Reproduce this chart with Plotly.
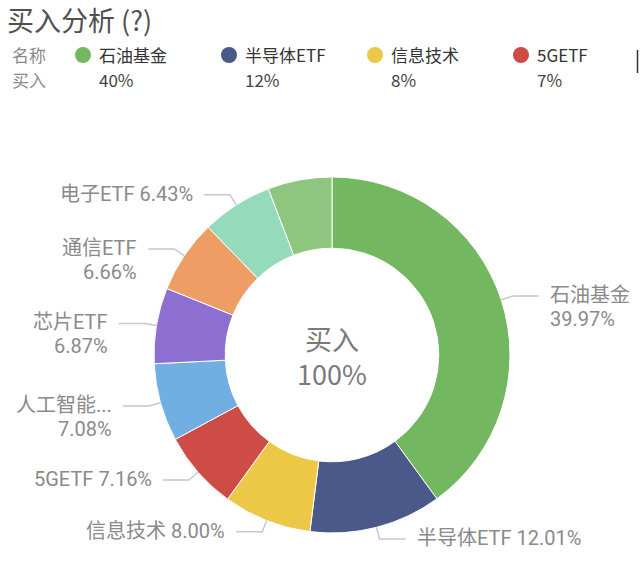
import numpy as np
import plotly.graph_objects as go

# ---- data ----
names = ["石油基金", "半导体ETF", "信息技术", "5GETF", "人工智能ETF",
         "芯片ETF", "通信ETF", "电子ETF", "其他"]
values = [39.97, 12.01, 8.00, 7.16, 7.08, 6.87, 6.66, 6.43, 5.82]
title_text = "买入分析 (?)"
legend_row_names = ["名称", "买入"]
center_title = "买入"
center_value = "100%"

# ---- style ----
colors = ["#73b761", "#4a588a", "#ecc846", "#cd4c46", "#71afe2",
          "#8d6fd1", "#ee9e64", "#95dabb", "#8fc67f"]
label_wrap = [True, False, False, False, True, True, True, False, False]
label_show = [True, True, True, True, True, True, True, True, False]
legend_count = 4
FONT = "Noto Sans CJK SC, Noto Sans, sans-serif"
LABEL_FONT = "Roboto, Noto Sans CJK SC, sans-serif"

W, H = 640, 582
CX, CY, R = 332, 355, 178
HOLE = 0.6


def px(x):
    return x / W


def py(y):
    return 1 - y / H


fig = go.Figure(go.Pie(
    labels=names, values=values, sort=False, direction="clockwise",
    rotation=0, hole=HOLE,
    marker=dict(colors=colors, line=dict(color="white", width=1)),
    textinfo="none", hoverinfo="skip", showlegend=False,
    domain=dict(x=[px(CX - R), px(CX + R)], y=[py(CY + R), py(CY - R)]),
))

annotations = []
shapes = []

# ---- slice labels with leader lines ----
vals = np.array(values, dtype=float)
frac = vals / vals.sum()
cum = np.cumsum(frac)
mid = (cum - frac / 2) * 2 * np.pi
LEN1, LEN2, GAP, LINE_H = 12, 26, 10, 24
LABEL_COLOR = "#8a8a8a"
for i, name in enumerate(names):
    if not label_show[i]:
        continue
    s, c = np.sin(mid[i]), np.cos(mid[i])
    x1, y1 = CX + R * s, CY - R * c
    x2, y2 = CX + (R + LEN1) * s, CY - (R + LEN1) * c
    right = s >= 0
    x3 = x2 + (LEN2 if right else -LEN2)
    shapes.append(dict(
        type="path", xref="paper", yref="paper",
        path=f"M {px(x1)},{py(y1)} L {px(x2)},{py(y2)} L {px(x3)},{py(y2)}",
        line=dict(color="#c8c8c8", width=1.5),
    ))
    tx = x3 + (GAP if right else -GAP)
    disp = name if len(name) <= 6 else name[:4] + "..."
    pct = f"{values[i]:.2f}%"
    lines = [disp, pct] if label_wrap[i] else [f"{disp} {pct}"]
    for k, t in enumerate(lines):
        annotations.append(dict(
            text=t, x=px(tx), y=py(y2 - 1 + k * LINE_H),
            xref="paper", yref="paper",
            xanchor="left" if right else "right", yanchor="middle",
            borderpad=0, showarrow=False,
            font=dict(size=20, color=LABEL_COLOR, family=LABEL_FONT),
        ))

# ---- center text ----
annotations.append(dict(text=f"{center_title}<br>{center_value}",
                        x=px(CX), y=py(356), xref="paper", yref="paper",
                        showarrow=False, xanchor="center", yanchor="middle",
                        align="center", borderpad=0,
                        font=dict(size=27, color="#7a7a7a", family=FONT)))

# ---- title ----
annotations.append(dict(text=title_text, x=px(6), y=py(20), xref="paper",
                        yref="paper", showarrow=False, xanchor="left",
                        yanchor="middle", borderpad=0,
                        font=dict(size=27, color="#505050", family=FONT)))

# ---- custom legend ----
ROW1, ROW2 = 54.5, 79.5
for j, t in enumerate(legend_row_names):
    annotations.append(dict(text=t, x=px(11), y=py(ROW1 if j == 0 else ROW2),
                            xref="paper", yref="paper", showarrow=False,
                            xanchor="left", yanchor="middle", borderpad=0,
                            font=dict(size=17, color="#8a8a8a", family=FONT)))
LEG_X0, LEG_DX = 83, 146
for i in range(legend_count):
    dx = LEG_X0 + i * LEG_DX
    shapes.append(dict(type="circle", xref="paper", yref="paper",
                       x0=px(dx - 8), x1=px(dx + 8),
                       y0=py(55 + 8), y1=py(55 - 8),
                       fillcolor=colors[i], line=dict(width=0)))
    annotations.append(dict(text=names[i], x=px(dx + 15), y=py(ROW1),
                            xref="paper", yref="paper", showarrow=False,
                            xanchor="left", yanchor="middle", borderpad=0,
                            font=dict(size=17, color="#333333", family=FONT)))
    annotations.append(dict(text=f"{round(values[i])}%", x=px(dx + 15),
                            y=py(ROW2), xref="paper", yref="paper",
                            showarrow=False, xanchor="left", yanchor="middle",
                            borderpad=0,
                            font=dict(size=17, color="#444444", family=FONT)))
# legend overflow marker
shapes.append(dict(type="line", xref="paper", yref="paper",
                   x0=px(637.5), x1=px(637.5), y0=py(50), y1=py(73),
                   line=dict(color="#333333", width=1.5)))

fig.update_layout(
    width=W, height=H, margin=dict(l=0, r=0, t=0, b=0),
    paper_bgcolor="white", plot_bgcolor="white",
    annotations=annotations, shapes=shapes,
    font=dict(family=FONT),
)
fig.write_html("out.html")
